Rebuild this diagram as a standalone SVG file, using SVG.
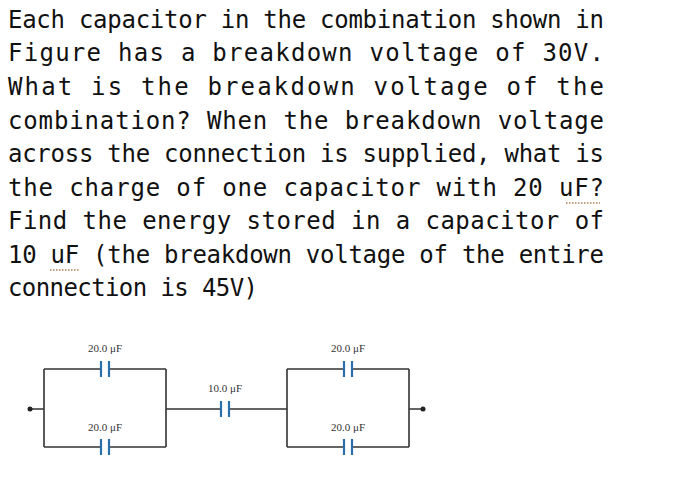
<svg xmlns="http://www.w3.org/2000/svg" width="673" height="483" viewBox="0 0 673 483">
<style>
.t{font-family:"DejaVu Sans Mono","Liberation Mono",monospace;font-size:24px;fill:#111}
.w{stroke:#333;stroke-width:1.6;fill:none}
.p{stroke:#2a6fa8;stroke-width:2.2}
.l{font-family:"Liberation Serif",serif;font-size:11px;fill:#333;text-anchor:middle}
.sq{stroke:#b08050;stroke-width:1.5;stroke-dasharray:1.5 1.5}
</style>
<rect width="673" height="483" fill="#fff"/>
<g id="text">
<text class="t" x="8" y="28" textLength="596" lengthAdjust="spacing">Each capacitor in the combination shown in</text>
<text class="t" x="8" y="61" textLength="596" lengthAdjust="spacing">Figure has a breakdown voltage of 30V.</text>
<text class="t" x="8" y="95" textLength="596" lengthAdjust="spacing">What is the breakdown voltage of the</text>
<text class="t" x="8" y="129" textLength="596" lengthAdjust="spacing">combination? When the breakdown voltage</text>
<text class="t" x="8" y="162" textLength="596" lengthAdjust="spacing">across the connection is supplied, what is</text>
<text class="t" x="8" y="196" textLength="596" lengthAdjust="spacing">the charge of one capacitor with 20 uF?</text>
<text class="t" x="8" y="229" textLength="596" lengthAdjust="spacing">Find the energy stored in a capacitor of</text>
<text class="t" x="8" y="263" textLength="596" lengthAdjust="spacing">10 uF (the breakdown voltage of the entire</text>
<text class="t" x="8" y="296" textLength="250" lengthAdjust="spacing">connection is 45V)</text>
<line class="sq" x1="566" y1="203" x2="600" y2="203"/>
<line class="sq" x1="50" y1="270" x2="80" y2="270"/>
</g>
<g id="connectors">
<path class="w" d="M30 409H44M44 369V447M44 369H101M109 369H166M44 447H101M109 447H166M166 369V447M166 409H221M229 409H287M287 369V447M287 369H344M352 369H409M287 447H344M352 447H409M409 369V447M409 409H423"/>
<circle cx="30" cy="409" r="2.5" fill="#222"/>
<circle cx="423" cy="409" r="2.5" fill="#222"/>
</g>
<g id="c1"><line class="p" x1="101" y1="361" x2="101" y2="377"/><line class="p" x1="109" y1="361" x2="109" y2="377"/><text class="l" x="105" y="352">20.0 μF</text></g>
<g id="c2"><line class="p" x1="101" y1="439" x2="101" y2="455"/><line class="p" x1="109" y1="439" x2="109" y2="455"/><text class="l" x="105" y="431">20.0 μF</text></g>
<g id="c3"><line class="p" x1="221" y1="401" x2="221" y2="417"/><line class="p" x1="229" y1="401" x2="229" y2="417"/><text class="l" x="225" y="392">10.0 μF</text></g>
<g id="c4"><line class="p" x1="344" y1="361" x2="344" y2="377"/><line class="p" x1="352" y1="361" x2="352" y2="377"/><text class="l" x="348" y="352">20.0 μF</text></g>
<g id="c5"><line class="p" x1="344" y1="439" x2="344" y2="455"/><line class="p" x1="352" y1="439" x2="352" y2="455"/><text class="l" x="348" y="431">20.0 μF</text></g>
</svg>
